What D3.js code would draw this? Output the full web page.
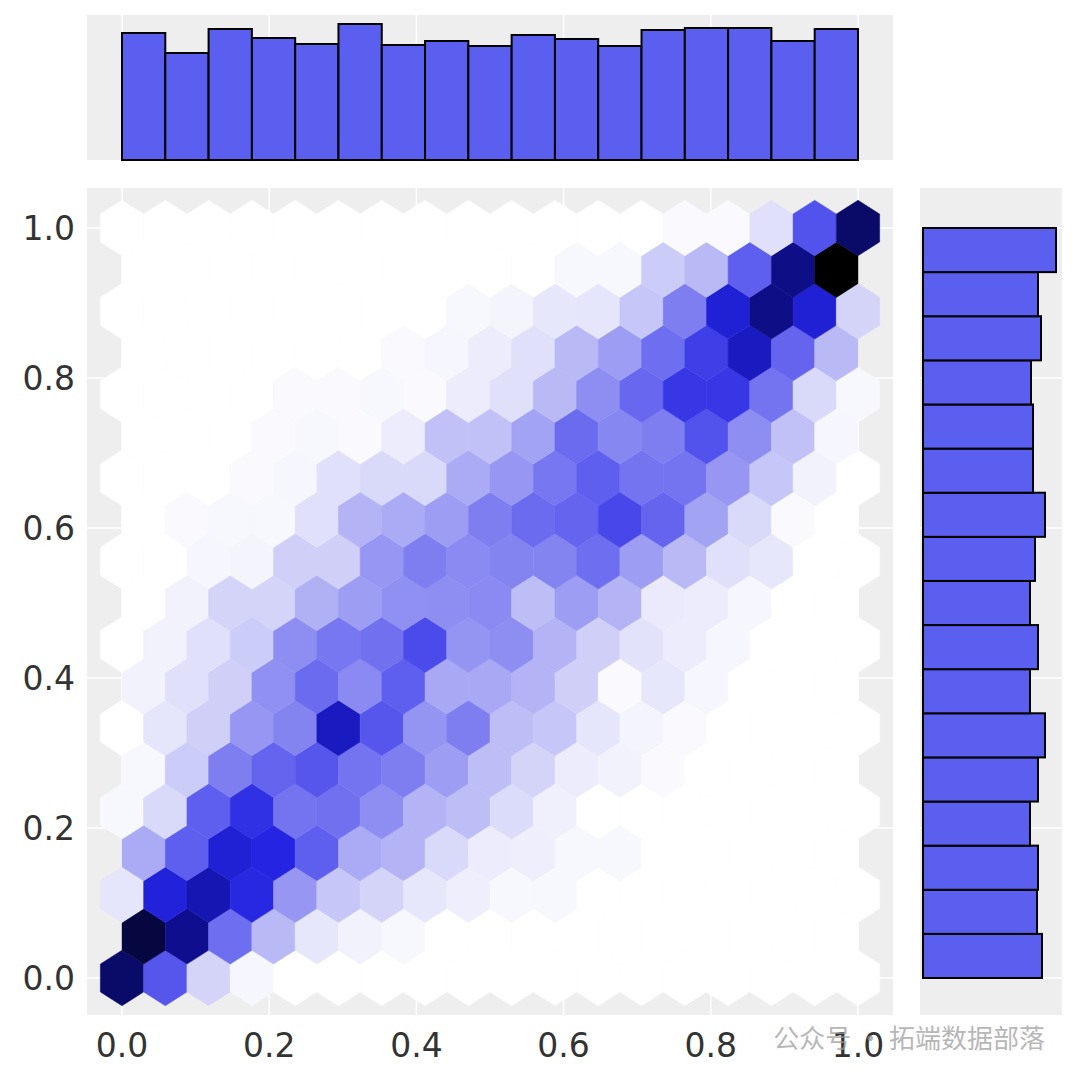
<!DOCTYPE html>
<html>
<head>
<meta charset="UTF-8">
<title>hexbin joint plot</title>
<script src="https://cdn.jsdelivr.net/npm/d3@7"></script>
<style>
  body { margin: 0; background: #fff; }
  text { font-family: "DejaVu Sans", sans-serif; }
</style>
</head>
<body>
<svg id="chart" width="1080" height="1080"></svg>
<script>
// hex intensity per row, bottom row (y=0) first; 19 rows, even rows at x = i/17, odd rows at x = (i+0.5)/17
var hexRows = [
  [9.2,6.2,2,0.5],
  [9.6,8.7,5.5,3,1.2,0.7,0.4],
  [1.3,7.6,8.2,7.4,4.2,2.5,2,1.2,0.9,0.4,0.4],
  [3.5,6,7.7,7.5,6,3.5,3.2,1.8,1,0.9,0.4,0.4],
  [0.4,1.8,6,7.2,5.3,5.4,4.5,3.2,2.8,1.7,0.8],
  [0.4,2.3,5,5.8,6.2,5.3,5,4,2.8,2,1,0.7,0.3],
  [0,1.3,2.2,4.2,4.8,8,6.2,4.3,5,2.8,2.5,1.3,0.6,0.3],
  [0.7,1.5,2.2,4.4,5.6,4.6,6,3.6,3.6,3.2,2.2,0.3,1.2,0.5],
  [0,0.7,1.5,2.3,4.5,5.2,5.4,6.5,4.3,4.5,3.2,2.2,1.4,1,0.5],
  [0,0.7,2,2,3.3,4,4.4,4.5,4.6,2.8,4,3.2,1.1,1,0.5],
  [0,0,0.5,0.6,2.2,2.2,4.2,5,4.6,4.8,4.8,5.5,4,3,1.5,1.2],
  [0,0.3,0.4,0.4,1.5,3.2,3.5,4,5,5.6,5.8,6.6,5.8,3.8,1.8,0.3],
  [0,0,0,0.3,0.5,1.5,1.8,1.8,3.5,4.2,5.2,6,5.3,5.3,4.2,2.5,0.7,0],
  [0,0,0,0.3,0.4,0.3,1,2.7,2.7,3.8,5.6,4.7,5,6.3,4.5,2.7,0.5],
  [0,0,0,0,0.3,0.3,0.4,0.3,1,1.5,3,4.5,5.7,7,7,5.3,1.8,0.4],
  [0,0,0,0,0,0,0.3,0.5,1,1.5,3,4,5.5,6.8,8,5.8,3],
  [0,0,0,0,0,0,0,0,0.4,0.6,1.2,1.3,2.5,5,7.7,8.8,7.7,2],
  [0,0,0,0,0,0,0,0,0,0,0.4,0.4,2.3,3,6,8.8,10],
  [0,0,0,0,0,0,0,0,0,0,0,0,0,0.3,0.3,1.5,6.3,9.2]
];
// marginal histogram counts, 17 bins over [0,1]
var xCounts = [127,107,131,122,116,136,115,119,114,125,121,114,130,132,132,119,131];
var yCounts = [119,114,115,107,115,122,107,115,107,112,122,110,110,108,118,115,133];
var ticks = [0, 0.2, 0.4, 0.6, 0.8, 1.0];

var svg = d3.select("#chart");
var nx = 17, ny = 9, sx = 1 / nx, sy = 1 / ny;

var x = d3.scaleLinear().domain([0, 1]).range([122, 858]);
var y = d3.scaleLinear().domain([0, 1]).range([978, 228]);
var L = 87, R = 893, T = 188, B = 1015;

var color = d3.scaleLinear()
  .domain([0, 1, 2, 4, 6, 7.5, 8.5, 9.5, 10])
  .range(["#ffffff", "#ececfc", "#d4d4f9", "#9d9df3", "#5e5eef", "#2424e2", "#10109f", "#080850", "#000000"]);

// main panel
svg.append("rect").attr("x", L).attr("y", T).attr("width", R - L).attr("height", B - T).attr("fill", "#eeeeee");
svg.append("clipPath").attr("id", "clip").append("rect")
  .attr("x", L).attr("y", T).attr("width", R - L).attr("height", B - T);
var g = svg.append("g").attr("clip-path", "url(#clip)");
ticks.forEach(function (t) {
  g.append("line").attr("x1", x(t)).attr("x2", x(t)).attr("y1", T).attr("y2", B).attr("stroke", "#fff").attr("stroke-width", 1.5);
  g.append("line").attr("y1", y(t)).attr("y2", y(t)).attr("x1", L).attr("x2", R).attr("stroke", "#fff").attr("stroke-width", 1.5);
});

var hexes = [];
hexRows.forEach(function (row, r) {
  var odd = r % 2 === 1;
  var n = odd ? nx : nx + 1;
  for (var i = 0; i < n; i++) {
    hexes.push({ cx: (i + (odd ? 0.5 : 0)) * sx, cy: r * sy / 2, v: row[i] || 0 });
  }
});
var off = [[sx / 2, -sy / 6], [sx / 2, sy / 6], [0, sy / 3], [-sx / 2, sy / 6], [-sx / 2, -sy / 6], [0, -sy / 3]];
g.selectAll("path.hex").data(hexes).enter().append("path")
  .attr("d", function (d) {
    return "M" + off.map(function (o) { return x(d.cx + o[0]) + "," + y(d.cy + o[1]); }).join("L") + "Z";
  })
  .attr("fill", function (d) { return color(d.v); })
  .attr("stroke", function (d) { return color(d.v); })
  .attr("stroke-width", 0.5);

ticks.forEach(function (t) {
  svg.append("text").attr("x", x(t)).attr("y", 1057).attr("text-anchor", "middle")
    .attr("font-size", 33).attr("fill", "#333").text(t.toFixed(1));
  svg.append("text").attr("x", 75).attr("y", y(t) + 12).attr("text-anchor", "end")
    .attr("font-size", 33).attr("fill", "#333").text(t.toFixed(1));
});

// top histogram
var hT = 15, hB = 160;
var yTop = d3.scaleLinear().domain([0, 145]).range([hB, hT]);
svg.append("rect").attr("x", L).attr("y", hT).attr("width", R - L).attr("height", hB - hT).attr("fill", "#eeeeee");
ticks.forEach(function (t) {
  svg.append("line").attr("x1", x(t)).attr("x2", x(t)).attr("y1", hT).attr("y2", hB).attr("stroke", "#fff").attr("stroke-width", 1.5);
});
svg.selectAll("rect.tb").data(xCounts).enter().append("rect")
  .attr("x", function (d, i) { return x(i / 17); })
  .attr("width", x(1 / 17) - x(0))
  .attr("y", function (d) { return yTop(d); })
  .attr("height", function (d) { return hB - yTop(d); })
  .attr("fill", "#5b5ff0").attr("stroke", "#000").attr("stroke-width", 2);

// right histogram
var rL = 920, rR = 1062;
var xRight = d3.scaleLinear().domain([0, 139]).range([923, rR]);
svg.append("rect").attr("x", rL).attr("y", T).attr("width", rR - rL).attr("height", B - T).attr("fill", "#eeeeee");
ticks.forEach(function (t) {
  svg.append("line").attr("y1", y(t)).attr("y2", y(t)).attr("x1", rL).attr("x2", rR).attr("stroke", "#fff").attr("stroke-width", 1.5);
});
svg.selectAll("rect.rb").data(yCounts).enter().append("rect")
  .attr("y", function (d, i) { return y((i + 1) / 17); })
  .attr("height", y(0) - y(1 / 17))
  .attr("x", xRight(0))
  .attr("width", function (d) { return xRight(d) - xRight(0); })
  .attr("fill", "#5b5ff0").attr("stroke", "#000").attr("stroke-width", 2);

// watermark
svg.append("text").attr("x", 1045).attr("y", 1048).attr("text-anchor", "end")
  .attr("font-size", 26).attr("fill", "#999").attr("opacity", 0.7)
  .style("font-family", "'Noto Sans CJK SC', sans-serif")
  .text("公众号 · 拓端数据部落");
</script>
</body>
</html>
